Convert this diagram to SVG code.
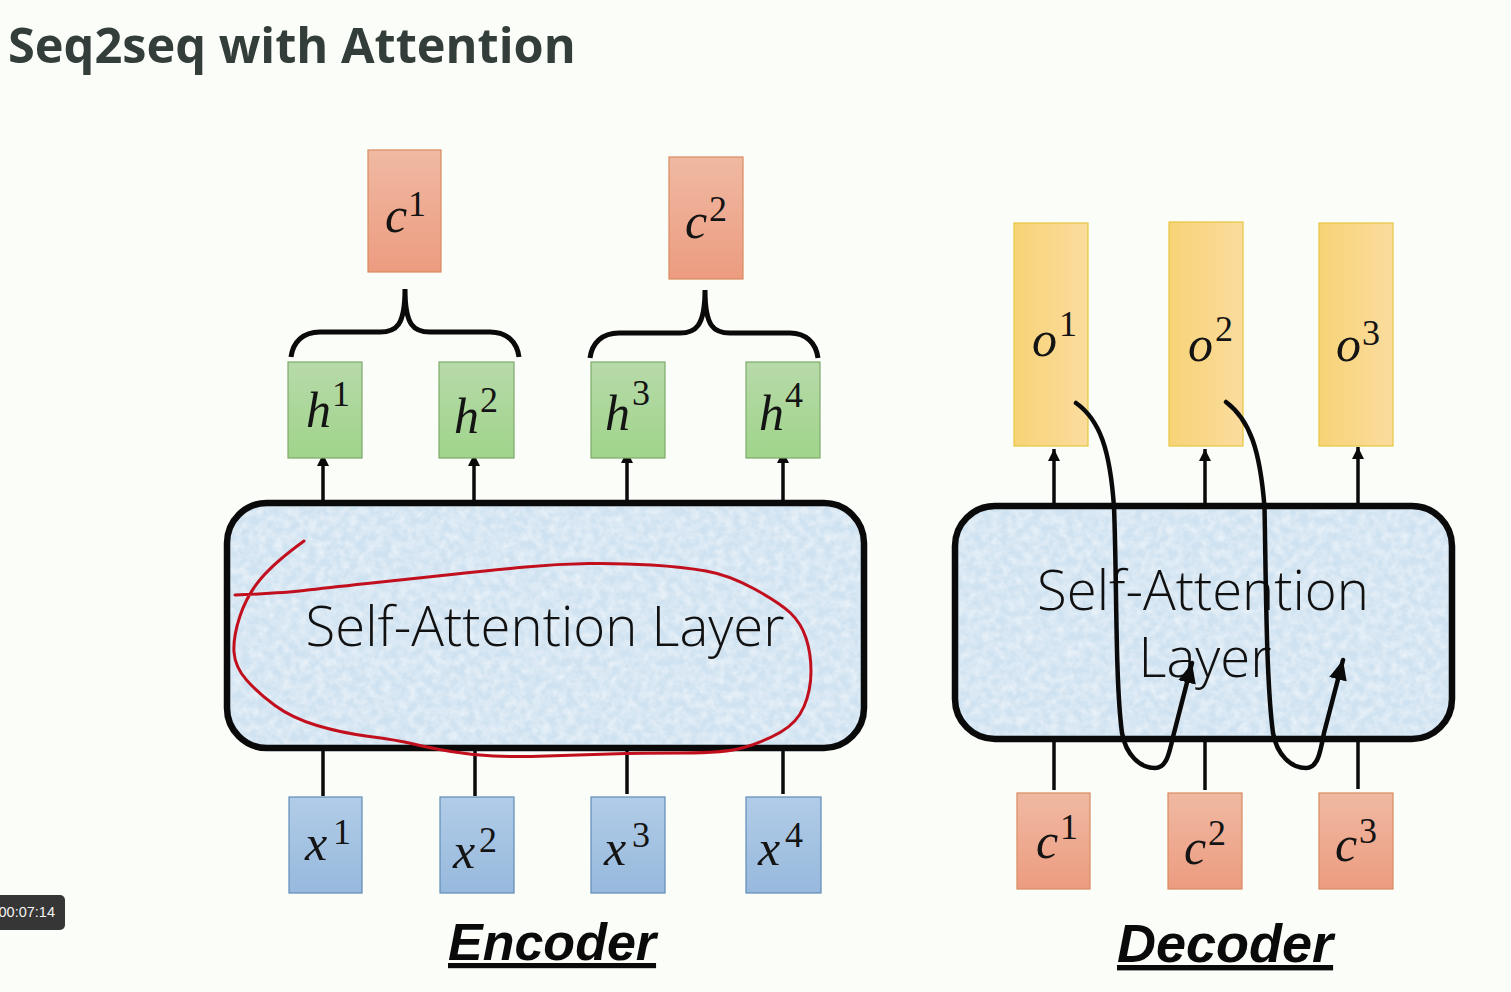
<svg xmlns="http://www.w3.org/2000/svg" width="1511" height="992" viewBox="0 0 1511 992">
<style>
.m{font-family:"Liberation Serif",serif;font-style:italic;font-size:50px;fill:#141414}
.s{font-family:"Liberation Serif",serif;font-size:36px;fill:#141414}
.lay{font-family:"Open Sans","Noto Sans",sans-serif;font-weight:300;font-size:54.500px;fill:#111;text-anchor:middle}
.cap{font-family:"Liberation Sans",Arial,sans-serif;font-weight:700;font-style:italic;fill:#0a0a0a;text-decoration:underline}
.box{stroke:#0a0a0a;stroke-width:6.500;fill:#d2e4f2}
.tex{filter:url(#paper)}
.g{fill:url(#gg);stroke:#7ea96c;stroke-width:1.200}
.o{fill:url(#go);stroke:#d98a5f;stroke-width:1.200}
.b{fill:url(#gb);stroke:#5f8cb8;stroke-width:1.200}
.y{fill:url(#gy);stroke:#e6c63f;stroke-width:1.200}
.c{fill:none;stroke:#0a0a0a;stroke-width:3.500}
.a{marker-end:url(#ah)}
.br{fill:none;stroke:#0a0a0a;stroke-width:5}
.hand{fill:none;stroke:#0a0a0a;stroke-width:4.500;stroke-linecap:round;marker-end:url(#hh)}
</style>
<defs>
<linearGradient id="gg" x1="0" y1="0" x2="0" y2="1"><stop offset="0" stop-color="#b7daa9"/><stop offset="1" stop-color="#a0d48b"/></linearGradient>
<linearGradient id="go" x1="0" y1="0" x2="0" y2="1"><stop offset="0" stop-color="#f0b9a2"/><stop offset="1" stop-color="#ec9c80"/></linearGradient>
<linearGradient id="gb" x1="0" y1="0" x2="0" y2="1"><stop offset="0" stop-color="#b1cce7"/><stop offset="1" stop-color="#97b9dd"/></linearGradient>
<linearGradient id="gy" x1="0" y1="0" x2="1" y2="0"><stop offset="0" stop-color="#f7d376"/><stop offset="1" stop-color="#fbdc9e"/></linearGradient>
<marker id="ah" markerUnits="userSpaceOnUse" markerWidth="14" markerHeight="14" refX="12" refY="6" orient="auto"><path d="M0 0L12 6L0 12z" fill="#0a0a0a"/></marker>
<marker id="hh" markerUnits="userSpaceOnUse" markerWidth="24" markerHeight="20" refX="20" refY="9" orient="auto"><path d="M0 0L20 9L0 18z" fill="#0a0a0a"/></marker>
<filter id="paper" x="0" y="0" width="100%" height="100%"><feTurbulence type="fractalNoise" baseFrequency="0.12" numOctaves="4" seed="7"/><feColorMatrix values="0 0 0 0 1  0 0 0 0 1  0 0 0 0 1  0.9 0 0 0 -0.28"/><feComposite in2="SourceAlpha" operator="in" result="w"/><feMerge><feMergeNode in="SourceGraphic"/><feMergeNode in="w"/></feMerge></filter>
</defs>
<rect width="1511" height="992" fill="#fbfdf9"/>
<text id="title" x="8" y="63" font-family="'Open Sans','Noto Sans',sans-serif" font-weight="700" font-size="48.700" fill="#333d39">Seq2seq with Attention</text>

<g id="connectors">
<path class="c a" d="M323 503V454"/><path class="c a" d="M474 503V454"/><path class="c a" d="M627 503V451"/><path class="c a" d="M783 503V451"/>
<path class="c" d="M323 748V796"/><path class="c" d="M475 748V796"/><path class="c" d="M627 748V794"/><path class="c" d="M783 748V794"/>
<path class="c a" d="M1054 506V449"/><path class="c a" d="M1205 506V449"/><path class="c a" d="M1358 506V447"/>
<path class="c" d="M1054 740V790"/><path class="c" d="M1205 740V790"/><path class="c" d="M1358 740V789"/>
<path class="br" d="M291 357C293 342 303 332 320 332H380C396 332 405 326 405 289C405 326 414 332 430 332H490C507 332 517 342 519 357"/>
<path class="br" d="M590 358C592 343 602 333 619 333H680C695 333 705 327 705 290C705 327 714 333 730 333H790C806 333 816 343 818 358"/>
</g>

<g id="encoder-layer"><rect class="box" x="227" y="503" width="637" height="245" rx="40"/><rect class="tex" x="231" y="507" width="629" height="237" rx="36" fill="#cfe2f1"/><text class="lay" x="545" y="646">Self-Attention Layer</text></g>
<g id="decoder-layer"><rect class="box" x="955" y="506" width="497" height="233" rx="40"/><rect class="tex" x="959" y="510" width="489" height="225" rx="36" fill="#cfe2f1"/><text class="lay" x="1203" y="610">Self-Attention</text><text class="lay" x="1205" y="677">Layer</text></g>

<g id="c1"><rect class="o" x="368" y="150" width="73" height="122"/><text class="m" x="385" y="232">c</text><text class="s" x="408" y="216">1</text></g>
<g id="c2"><rect class="o" x="669" y="157" width="74" height="122"/><text class="m" x="685" y="238">c</text><text class="s" x="709" y="221">2</text></g>
<g id="h1"><rect class="g" x="288" y="362" width="74" height="96"/><text class="m" x="306" y="427">h</text><text class="s" x="332" y="406">1</text></g>
<g id="h2"><rect class="g" x="439" y="362" width="75" height="96"/><text class="m" x="454" y="433">h</text><text class="s" x="480" y="412">2</text></g>
<g id="h3"><rect class="g" x="591" y="362" width="74" height="96"/><text class="m" x="605" y="430">h</text><text class="s" x="632" y="405">3</text></g>
<g id="h4"><rect class="g" x="746" y="362" width="74" height="96"/><text class="m" x="759" y="430">h</text><text class="s" x="785" y="407">4</text></g>
<g id="x1"><rect class="b" x="289" y="797" width="73" height="96"/><text class="m" x="305" y="860">x</text><text class="s" x="333" y="844">1</text></g>
<g id="x2"><rect class="b" x="440" y="797" width="74" height="96"/><text class="m" x="453" y="868">x</text><text class="s" x="479" y="852">2</text></g>
<g id="x3"><rect class="b" x="591" y="797" width="74" height="96"/><text class="m" x="604" y="865">x</text><text class="s" x="632" y="847">3</text></g>
<g id="x4"><rect class="b" x="746" y="797" width="75" height="96"/><text class="m" x="758" y="865">x</text><text class="s" x="785" y="847">4</text></g>
<g id="o1"><rect class="y" x="1014" y="223" width="74" height="223"/><text class="m" x="1032" y="356">o</text><text class="s" x="1059" y="336">1</text></g>
<g id="o2"><rect class="y" x="1169" y="222" width="74" height="224"/><text class="m" x="1188" y="361">o</text><text class="s" x="1215" y="341">2</text></g>
<g id="o3"><rect class="y" x="1319" y="223" width="74" height="223"/><text class="m" x="1336" y="361">o</text><text class="s" x="1362" y="345">3</text></g>
<g id="dec-c1"><rect class="o" x="1017" y="793" width="73" height="96"/><text class="m" x="1036" y="858">c</text><text class="s" x="1060" y="839">1</text></g>
<g id="dec-c2"><rect class="o" x="1168" y="793" width="74" height="96"/><text class="m" x="1184" y="864">c</text><text class="s" x="1208" y="845">2</text></g>
<g id="dec-c3"><rect class="o" x="1319" y="793" width="74" height="96"/><text class="m" x="1335" y="861">c</text><text class="s" x="1359" y="843">3</text></g>

<text id="encoder-label" class="cap" x="448" y="960" font-size="52">Encoder</text>
<text id="decoder-label" class="cap" x="1117" y="962" font-size="54">Decoder</text>

<g id="annotations">
<path fill="none" stroke="#c20f1e" stroke-width="3" stroke-linecap="round" d="M304 541Q275 562 261 578.500Q247 595 240 616Q233 637 234 652Q235 667 246.500 680Q258 693 275 705.500Q292 718 317 725.500Q342 733 369.500 736.500Q397 740 413.500 744Q430 748 451 751.500Q472 755 493.500 756Q515 757 546.500 756Q578 755 609.500 754Q641 753 683 753Q725 753 744 747.500Q763 742 780 732.500Q797 723 804 706.500Q811 690 811 671.500Q811 653 806 638Q801 623 790.500 613Q780 603 754.500 589Q729 575 706 571Q683 567 651.500 565Q620 563 588.500 563.500Q557 564 525.500 567Q494 570 451.500 574.500Q409 579 367 583.500Q325 588 304 590.500Q283 593 235 595"/>
<path class="hand" d="M1076 403C1100 420 1110 450 1114 507C1117 580 1115 680 1122 733C1126 755 1140 768 1155 768C1166 768 1169 755 1173 737L1192 663"/>
<path class="hand" d="M1226 402C1250 420 1260 450 1264.500 507C1266 580 1266 680 1273 733C1277 755 1291 768 1306 768C1317 768 1320 755 1324 733L1343 660"/>
</g>

<g id="timestamp"><rect x="-6" y="895" width="71" height="35" rx="5" fill="#363636"/><text x="55" y="917" text-anchor="end" font-family="'Liberation Sans',Arial,sans-serif" font-size="14.500" fill="#f4f4f4">00:07:14</text></g>
</svg>
